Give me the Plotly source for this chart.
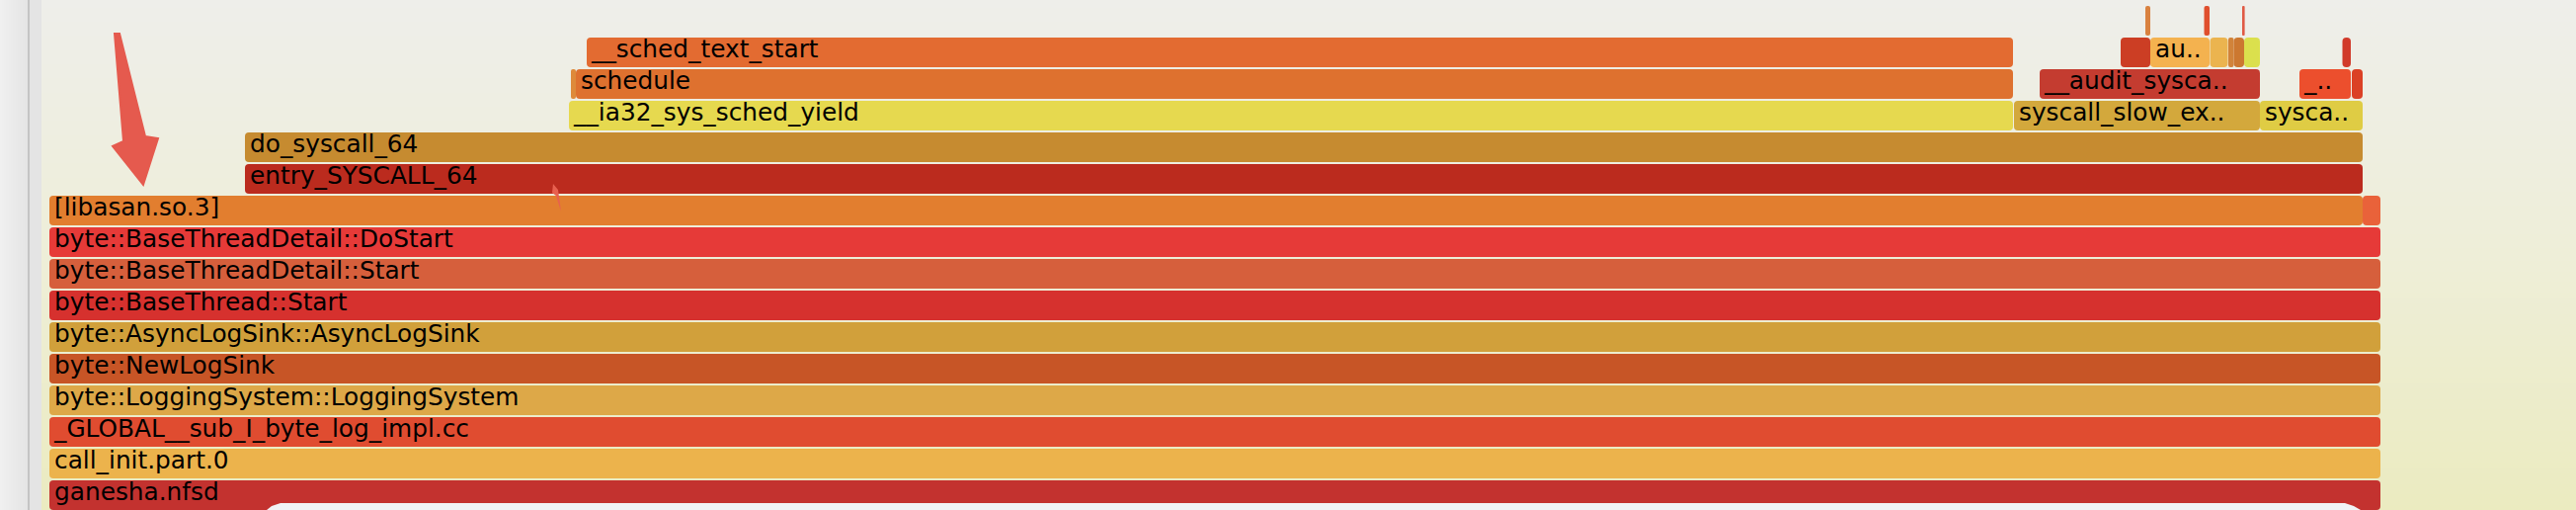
import plotly.graph_objects as go

W, H = 2608, 516

# flame graph frames, x in samples from the root frame's left edge
frame_names = [
    "ganesha.nfsd", "call_init.part.0", "_GLOBAL__sub_I_byte_log_impl.cc",
    "byte::LoggingSystem::LoggingSystem", "byte::NewLogSink", "byte::AsyncLogSink::AsyncLogSink",
    "byte::BaseThread::Start", "byte::BaseThreadDetail::Start", "byte::BaseThreadDetail::DoStart",
    "[libasan.so.3]", "", "entry_SYSCALL_64", "do_syscall_64",
    "__ia32_sys_sched_yield", "syscall_slow_ex..", "sysca..",
    "", "schedule", "__audit_sysca..", "_..", "",
    "__sched_text_start", "", "au..", "", "", "", "", "",
    "", "", "",
]
frame_levels = [
    0, 1, 2, 3, 4, 5, 6, 7, 8,
    9, 9, 10, 11,
    12, 12, 12,
    13, 13, 13, 13, 13,
    14, 14, 14, 14, 14, 14, 14, 14,
    15, 15, 15,
]
frame_starts = [
    0, 0, 0, 0, 0, 0, 0, 0, 0,
    0, 2342, 198, 198,
    526, 1989, 2238,
    528, 533, 2015, 2278, 2331,
    544, 2097, 2127, 2187.5, 2206, 2211.5, 2222, 2321.5,
    2122, 2181.5, 2220,
]
frame_widths = [
    2360, 2360, 2360, 2360, 2360, 2360, 2360, 2360, 2360,
    2342, 18, 2144, 2144,
    1462, 249, 104,
    5, 1455, 223, 52, 11,
    1444, 30, 60, 18, 5.5, 10.5, 16, 8.5,
    5, 5.5, 2.6,
]
frame_colors = [
    "#c3322f", "#ecb34c", "#e04c30", "#dda848", "#c75526", "#d1a03b",
    "#d6312e", "#d65f3c", "#e63a38",
    "#e27e2f", "#e9623a", "#bb2b1e", "#c68b30",
    "#e6d94f", "#d3a83c", "#dfcc44",
    "#de8a3a", "#de712f", "#c43c30", "#ec4f2d", "#db4125",
    "#e36b31", "#cc3e24", "#f4b24f", "#ebb44f", "#d1833a", "#cc7830", "#dbe04d", "#d13a2a",
    "#d9813f", "#e04f2d", "#e05a45",
]

ROOT_X = 50
ROW = 32
PANEL_L, PANEL_R = 30, 2430
LABEL_PAD = 5


def px_x(v):
    return v / W


def px_y(v):
    return 1 - v / H


def path(points):
    return "M " + " L ".join(f"{px_x(x):.5f},{px_y(y):.5f}" for x, y in points) + " Z"


x_range = [-ROOT_X, W - ROOT_X]
y_range = [-15 / ROW, 501 / ROW]

fig = go.Figure()

# panel background gradient, heatmaps sit under the bars
fig.add_trace(go.Heatmap(
    x=[PANEL_L - ROOT_X, PANEL_R - ROOT_X],
    y=y_range,
    z=[[0, 0], [1, 1]],
    zsmooth="best",
    showscale=False,
    hoverinfo="skip",
    colorscale=[[0, "#ebebc0"], [0.5, "#eeeed8"], [1, "#eeeeea"]],
))

# page gutter left of the panel
fig.add_trace(go.Heatmap(
    x=[-ROOT_X, PANEL_L - 2 - ROOT_X],
    y=y_range,
    z=[[0, 1], [0, 1]],
    zsmooth="best",
    showscale=False,
    hoverinfo="skip",
    colorscale=[[0, "#f0f0f0"], [1, "#e4e4e4"]],
))

fig.add_trace(go.Bar(
    orientation="h",
    y=frame_levels,
    x=frame_widths,
    base=frame_starts,
    width=30 / ROW,
    marker=dict(color=frame_colors, line_width=0, cornerradius=4),
    hovertext=frame_names,
    hoverinfo="text",
))

# labels as a text trace so the padding is ours, not the bar's
labelled = [i for i, name in enumerate(frame_names) if name]
fig.add_trace(go.Scatter(
    x=[frame_starts[i] + LABEL_PAD for i in labelled],
    y=[frame_levels[i] + 1 / ROW for i in labelled],
    text=[frame_names[i] for i in labelled],
    mode="text",
    textposition="middle right",
    textfont=dict(family="DejaVu Sans", size=24.8, color="#000000"),
    hoverinfo="skip",
))

shapes = [
    dict(type="rect", xref="paper", yref="paper", x0=px_x(28), x1=px_x(30), y0=0, y1=1,
         fillcolor="#c4c4c4", line_width=0),
    # big arrow
    dict(type="path", xref="paper", yref="paper", line=dict(color="#e55a4e", width=2), fillcolor="#e55a4e",
         path=path([(116, 34), (121, 34), (147, 138), (160, 140), (145, 187), (114, 148), (125, 143)])),
    # small arrow
    dict(type="path", xref="paper", yref="paper", line_width=0, fillcolor="#e8604f",
         path=path([(560, 186), (565, 192), (568, 214), (563, 198), (559, 195)])),
    # popup peeking in at the bottom
    dict(type="path", xref="paper", yref="paper", line_width=0, fillcolor="#f1f3f6",
         path=path([(270, 516), (275, 512), (284, 509), (2374, 509), (2383, 512), (2390, 516)])),
]

fig.update_layout(
    width=W, height=H,
    margin=dict(l=0, r=0, t=0, b=0),
    paper_bgcolor="#ffffff",
    plot_bgcolor="rgba(0,0,0,0)",
    showlegend=False,
    barmode="overlay",
    shapes=shapes,
    xaxis=dict(range=x_range, visible=False, fixedrange=True),
    yaxis=dict(range=y_range, visible=False, fixedrange=True),
)

fig.write_html("out.html", config=dict(displayModeBar=False), post_script="document.body.style.margin='0';")
